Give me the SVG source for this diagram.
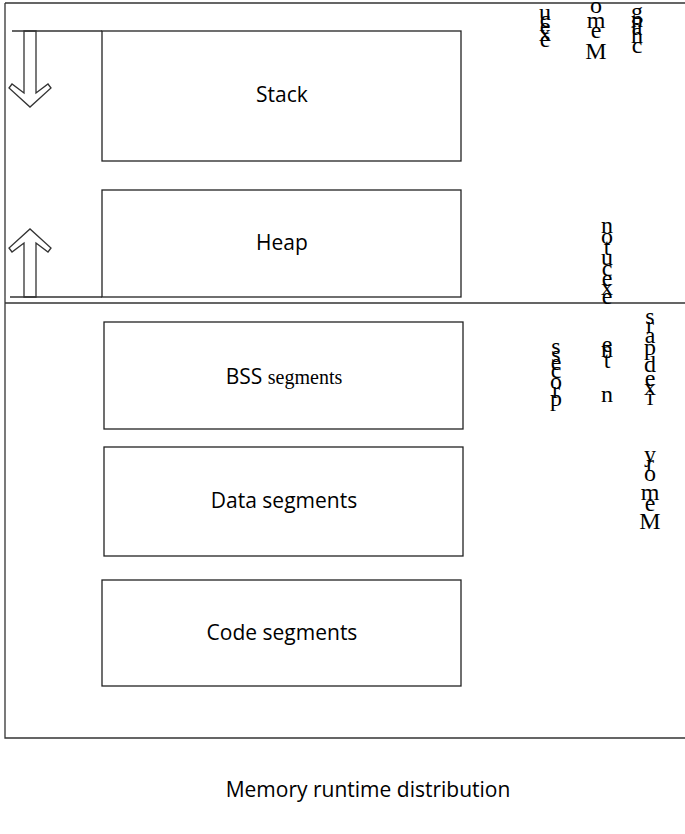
<svg xmlns="http://www.w3.org/2000/svg" width="685" height="834" viewBox="0 0 685 834">
<style>
.b{fill:#fff;stroke:#222;stroke-width:1.3}
.l{stroke:#333;stroke-width:1.3;fill:none}
.t{font-family:"Open Sans","Noto Sans",sans-serif;font-size:21px;fill:#000;text-anchor:middle}
.v{font-family:"Liberation Serif",serif;font-size:24px;fill:#000;text-anchor:middle}
</style>
<rect width="685" height="834" fill="#fff"/>
<g id="frame">
<path class="l" d="M5 3H685M5 3V738H685M5 303H685M12 31H102M10 297H102"/>
</g>
<g id="arrows">
<path class="l" d="M24 31V93L12 84L9 88L30 107L51 88L48 84L36 93V31Z" fill="#fff"/>
<path class="l" d="M24 297V243L12 252L9 248L30 229L51 248L48 252L36 243V297Z" fill="#fff"/>
</g>
<g id="stack"><rect class="b" x="102" y="31" width="359" height="130"/><text class="t" x="282" y="102">Stack</text></g>
<g id="heap"><rect class="b" x="102" y="190" width="359" height="107"/><text class="t" x="282" y="250">Heap</text></g>
<g id="bss"><rect class="b" x="104" y="322" width="359" height="107"/><text class="t" x="284" y="384">BSS <tspan font-family="Liberation Serif,serif" font-size="20">segments</tspan></text></g>
<g id="data"><rect class="b" x="104" y="447" width="359" height="109"/><text class="t" x="284" y="508">Data segments</text></g>
<g id="code"><rect class="b" x="102" y="580" width="359" height="106"/><text class="t" x="282" y="640">Code segments</text></g>
<g id="vert">
<text class="v" x="545" y="20">u<tspan x="545" dy="7">c</tspan><tspan x="545" dy="7">e</tspan><tspan x="545" dy="7">x</tspan><tspan x="545" dy="6">e</tspan></text>
<text class="v" x="596" y="13">o<tspan x="596" dy="15">m</tspan><tspan x="596" dy="10">e</tspan><tspan x="596" dy="21">M</tspan></text>
<text class="v" x="637" y="19">g<tspan x="637" dy="8">n</tspan><tspan x="637" dy="8">a</tspan><tspan x="637" dy="8">h</tspan><tspan x="637" dy="10">c</tspan></text>
<text class="v" x="607" y="233">n<tspan x="607" dy="11">o</tspan><tspan x="607" dy="11">t</tspan><tspan x="607" dy="10">u</tspan><tspan x="607" dy="11">c</tspan><tspan x="607" dy="10">e</tspan><tspan x="607" dy="9">x</tspan><tspan x="607" dy="9">e</tspan></text>
<text class="v" x="607" y="352">e<tspan x="607" dy="5">n</tspan><tspan x="607" dy="11">t</tspan><tspan x="607" dy="34">n</tspan></text>
<text class="v" x="556" y="354">s<tspan x="556" dy="8">s</tspan><tspan x="556" dy="8">e</tspan><tspan x="556" dy="8">c</tspan><tspan x="556" dy="11">o</tspan><tspan x="556" dy="9">r</tspan><tspan x="556" dy="8">p</tspan></text>
<text class="v" x="650" y="324">s<tspan x="650" dy="9">r</tspan><tspan x="650" dy="10">a</tspan><tspan x="650" dy="12">p</tspan><tspan x="650" dy="17">d</tspan><tspan x="650" dy="14">e</tspan><tspan x="650" dy="9">x</tspan><tspan x="650" dy="10">i</tspan></text>
<text class="v" x="650" y="462">y<tspan x="650" dy="9">r</tspan><tspan x="650" dy="10">o</tspan><tspan x="650" dy="19">m</tspan><tspan x="650" dy="11">e</tspan><tspan x="650" dy="18">M</tspan></text>
</g>
<text class="t" x="368" y="797" font-size="23">Memory runtime distribution</text>
</svg>
